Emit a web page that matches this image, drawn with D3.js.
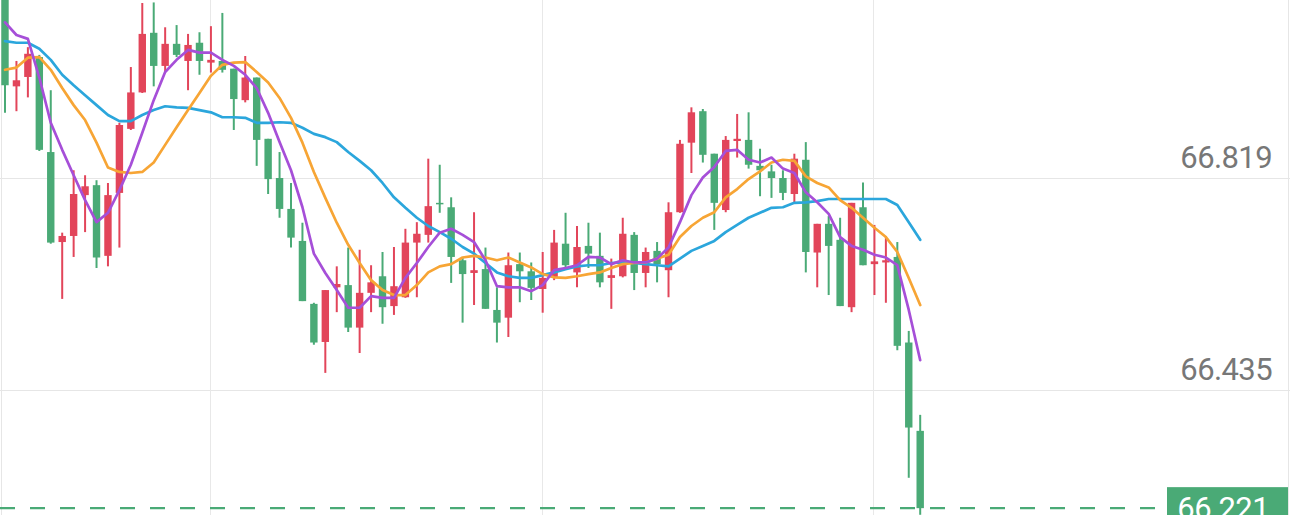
<!DOCTYPE html>
<html>
<head>
<meta charset="utf-8">
<script src="https://cdn.jsdelivr.net/npm/d3@7"></script>
<style>
  html, body { margin: 0; padding: 0; background: #fff; overflow: hidden; }
  svg { display: block; }
</style>
</head>
<body>
<script>
var screenW = 1290, screenH = 515;

// candle data, oldest first
var opens = [67.155,66.985,67.002,67.038,66.866,66.703,66.714,66.788,66.806,66.678,
  66.792,66.908,66.974,67.082,67.022,67.062,67.031,67.064,67.028,67.031,
  67.017,66.960,67.001,66.890,66.819,66.763,66.705,66.591,66.522,66.621,
  66.625,66.548,66.611,66.641,66.587,66.603,66.702,66.716,66.774,66.766,
  66.670,66.647,66.654,66.580,66.566,66.663,66.650,66.618,66.639,66.700,
  66.648,66.696,66.678,66.638,66.641,66.716,66.647,66.687,66.652,66.757,
  66.883,66.940,66.863,66.761,66.886,66.888,66.841,66.831,66.819,66.790,
  66.852,66.684,66.736,66.707,66.585,66.766,66.663,66.666,66.676,66.521,
  66.361];
var highs = [67.168,67.031,67.056,67.042,66.978,66.720,66.833,66.824,66.815,66.810,
  66.919,67.020,67.136,67.137,67.092,67.096,67.080,67.083,67.094,67.118,
  67.017,67.040,67.001,66.890,66.866,66.810,66.738,66.593,66.616,66.659,
  66.693,66.689,66.661,66.685,66.694,66.727,66.739,66.854,66.843,66.784,
  66.675,66.757,66.693,66.621,66.684,66.684,66.666,66.685,66.725,66.756,
  66.732,66.738,66.720,66.673,66.747,66.721,66.693,66.703,66.775,66.888,
  66.947,66.944,66.863,66.895,66.935,66.938,66.872,66.843,66.833,66.863,
  66.884,66.736,66.750,66.747,66.774,66.811,66.734,66.714,66.703,66.542,
  66.390];
var lows = [66.937,66.940,66.965,66.868,66.700,66.600,66.676,66.721,66.656,66.659,
  66.693,66.906,66.973,66.985,67.011,67.038,66.978,67.006,67.010,67.010,
  66.906,66.956,66.841,66.790,66.747,66.693,66.596,66.517,66.466,66.576,
  66.540,66.502,66.576,66.555,66.571,66.602,66.603,66.702,66.756,66.629,
  66.557,66.589,66.582,66.521,66.531,66.594,66.598,66.575,66.634,66.656,
  66.621,66.656,66.621,66.582,66.639,66.616,66.621,66.630,66.603,66.756,
  66.828,66.847,66.725,66.757,66.856,66.836,66.786,66.783,66.779,66.775,
  66.648,66.621,66.607,66.587,66.576,66.661,66.607,66.593,66.507,66.276,
  66.209];
var closes = [66.987,66.996,67.044,66.870,66.702,66.714,66.790,66.804,66.675,66.788,
  66.915,66.974,67.080,67.022,67.062,67.042,67.060,67.031,67.033,67.015,
  66.962,67.001,66.888,66.817,66.763,66.711,66.596,66.521,66.616,66.627,
  66.548,66.611,66.630,66.585,66.623,66.702,66.718,66.768,66.772,66.676,
  66.645,66.652,66.582,66.557,66.661,66.650,66.620,66.638,66.702,66.661,
  66.694,66.682,66.630,66.643,66.718,66.647,66.685,66.663,66.757,66.881,
  66.938,66.861,66.774,66.888,66.890,66.843,66.833,66.819,66.792,66.854,
  66.685,66.736,66.696,66.587,66.774,66.661,66.668,66.670,66.515,66.367,
  66.221];

// moving averages
var maFast = [67.101,67.078,67.071,67.001,66.919,66.870,66.824,66.779,66.739,66.756,
  66.797,66.843,66.901,66.960,67.011,67.033,67.051,67.046,67.046,67.033,
  67.022,67.006,66.982,66.937,66.884,66.833,66.766,66.682,66.647,66.616,
  66.584,66.584,66.605,66.602,66.602,66.638,66.665,66.694,66.720,66.727,
  66.716,66.703,66.670,66.623,66.621,66.621,66.614,66.625,66.652,66.656,
  66.661,66.676,66.675,66.663,66.670,66.666,66.666,66.673,66.693,66.739,
  66.788,66.820,66.839,66.868,66.870,66.852,66.847,66.856,66.836,66.828,
  66.793,66.775,66.754,66.712,66.696,66.689,66.680,66.675,66.661,66.580,
  66.489];
var maMid = [67.015,67.019,67.037,67.038,67.015,66.982,66.951,66.924,66.883,66.838,
  66.830,66.828,66.830,66.847,66.879,66.911,66.942,66.973,67.004,67.024,
  67.028,67.029,67.011,66.992,66.964,66.928,66.883,66.830,66.783,66.738,
  66.698,66.665,66.634,66.616,66.607,66.607,66.625,66.648,66.659,66.663,
  66.675,66.678,66.675,66.670,66.675,66.666,66.657,66.645,66.639,66.638,
  66.641,66.645,66.648,66.656,66.663,66.665,66.666,66.673,66.680,66.712,
  66.732,66.747,66.757,66.784,66.799,66.817,66.831,66.847,66.852,66.850,
  66.822,66.810,66.802,66.779,66.765,66.747,66.729,66.712,66.685,66.638,
  66.589];
var maSlow = [67.067,67.064,67.064,67.053,67.033,67.006,66.987,66.969,66.951,66.933,
  66.922,66.922,66.933,66.942,66.949,66.947,66.946,66.942,66.938,66.929,
  66.929,66.928,66.919,66.919,66.920,66.919,66.910,66.899,66.893,66.884,
  66.866,66.850,66.833,66.810,66.784,66.765,66.747,66.732,66.721,66.709,
  66.694,66.682,66.665,66.648,66.641,66.638,66.638,66.643,66.648,66.654,
  66.659,66.661,66.661,66.665,66.666,66.665,66.663,66.661,66.659,66.673,
  66.687,66.696,66.705,66.721,66.734,66.747,66.756,66.765,66.766,66.774,
  66.775,66.777,66.781,66.781,66.781,66.781,66.781,66.781,66.770,66.739,
  66.707];

var priceTicks = [66.819, 66.435];
var timeGridIdx = [18, 47, 76];
var lastPrice = 66.221;

var upColor = "#e2455a", downColor = "#4aaa76";
var maColors = ["#a64fd8", "#f7a535", "#2ba6dc"];

var candles = opens.map(function(o, i){
    return {i: i, o: o, h: highs[i], l: lows[i], c: closes[i]};
});

var x = d3.scaleLinear().domain([0, candles.length - 1]).range([5, 920.2]);
var y = d3.scaleLinear().domain([66.435, 66.819]).range([390, 178]);

var svg = d3.select("body").append("svg")
                .attr("width", screenW)
                .attr("height", screenH);

var grid = svg.append("g").attr("class", "grid");

//horizontal grid from price ticks
grid.selectAll("line.h").data(priceTicks).enter().append("line")
        .attr("class", "h")
        .attr("x1", 0).attr("x2", screenW)
        .attr("y1", function(d){ return Math.round(y(d)) + 0.5; })
        .attr("y2", function(d){ return Math.round(y(d)) + 0.5; })
        .style("stroke", "#e6e6e6").style("stroke-width", 1);

grid.selectAll("line.v").data(timeGridIdx).enter().append("line")
        .attr("class", "v")
        .attr("y1", 0).attr("y2", screenH)
        .attr("x1", function(d){ return Math.round(x(d)) - 0.5; })
        .attr("x2", function(d){ return Math.round(x(d)) - 0.5; })
        .style("stroke", "#e8e8e8").style("stroke-width", 1);

//chart borders
grid.append("line").attr("x1", 1.5).attr("x2", 1.5).attr("y1", 0).attr("y2", screenH)
        .style("stroke", "#e6e6e6");
grid.append("line").attr("x1", 1288.5).attr("x2", 1288.5).attr("y1", 0).attr("y2", screenH)
        .style("stroke", "#e6e6e6");

//price labels
svg.append("g").selectAll("text").data(priceTicks).enter().append("text")
        .attr("x", 1272)
        .attr("y", function(d){ return y(d) - 10; })
        .attr("text-anchor", "end")
        .style("font-family", "Roboto, sans-serif")
        .style("font-size", "31px")
        .style("letter-spacing", "-0.6px")
        .style("fill", "#777")
        .text(function(d){ return d3.format(".3f")(d); });

//candles
var candleGroup = svg.append("g").attr("class", "candles");
var bodyW = 7.4;

var c = candleGroup.selectAll("g").data(candles).enter().append("g");
c.append("line")
        .attr("x1", function(d){ return x(d.i); })
        .attr("x2", function(d){ return x(d.i); })
        .attr("y1", function(d){ return y(d.h); })
        .attr("y2", function(d){ return y(d.l); })
        .style("stroke", function(d){ return d.c >= d.o ? upColor : downColor; })
        .style("stroke-width", 2);
c.append("rect")
        .attr("x", function(d){ return x(d.i) - bodyW / 2; })
        .attr("width", bodyW)
        .attr("y", function(d){ return y(Math.max(d.o, d.c)); })
        .attr("height", function(d){ return Math.max(1.5, Math.abs(y(d.o) - y(d.c))); })
        .style("fill", function(d){ return d.c >= d.o ? upColor : downColor; });

//moving averages
var line = d3.line()
        .x(function(d, i){ return x(i); })
        .y(function(d){ return y(d); });

svg.append("g").attr("class", "ma").selectAll("path")
        .data([maSlow, maMid, maFast]).enter().append("path")
        .attr("d", line)
        .style("fill", "none")
        .style("stroke", function(d, i){ return [maColors[2], maColors[1], maColors[0]][i]; })
        .style("stroke-width", 2.7)
        .style("stroke-linejoin", "round")
        .style("stroke-linecap", "round");

//last price marker
var lastY = y(lastPrice);
svg.append("line")
        .attr("x1", 0).attr("x2", 1167)
        .attr("y1", lastY).attr("y2", lastY)
        .style("stroke", downColor)
        .style("stroke-width", 2.4)
        .style("stroke-dasharray", "15,15");

svg.append("rect")
        .attr("x", 1167).attr("y", lastY - 21)
        .attr("width", 121).attr("height", 50)
        .style("fill", downColor);

svg.append("text")
        .attr("x", 1269).attr("y", lastY + 11)
        .attr("text-anchor", "end")
        .style("font-family", "Roboto, sans-serif")
        .style("font-size", "31px")
        .style("letter-spacing", "-0.6px")
        .style("fill", "#fff")
        .text(d3.format(".3f")(lastPrice));
</script>
</body>
</html>
